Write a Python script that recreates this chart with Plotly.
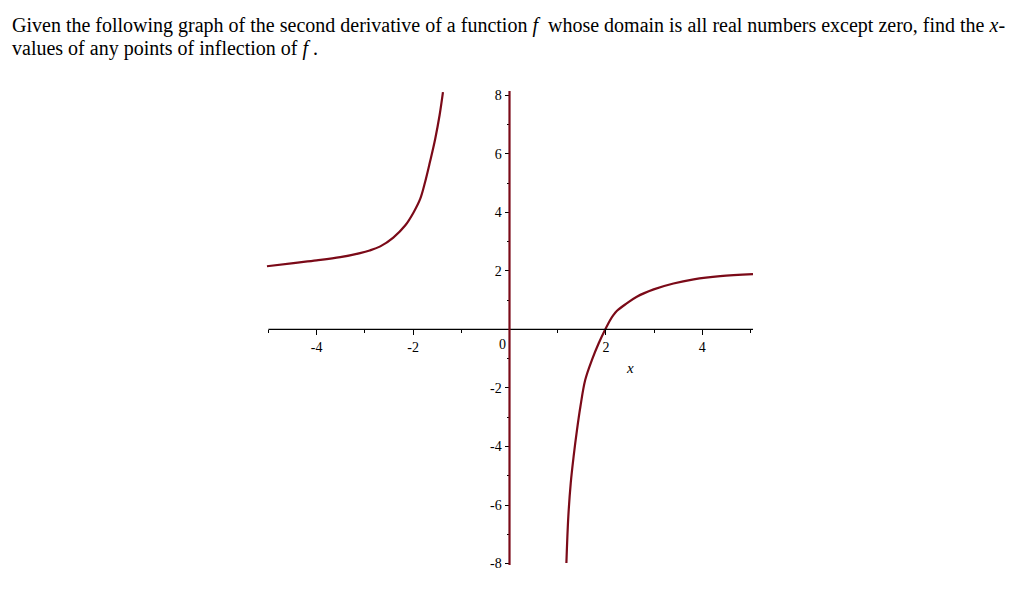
import plotly.graph_objects as go

# second derivative, left branch (x < 0)
left_x = [-5.03, -4.48, -4.0, -3.51, -3.10, -2.90, -2.68, -2.41, -2.16, -1.99,
          -1.85, -1.75, -1.65, -1.54, -1.45, -1.38]
left_y = [2.16, 2.27, 2.36, 2.47, 2.61, 2.70, 2.84, 3.14, 3.56, 4.00,
          4.47, 5.04, 5.72, 6.52, 7.32, 8.11]

# right branch (x > 0)
right_x = [1.18, 1.22, 1.27, 1.33, 1.40, 1.47, 1.57, 1.71, 1.85, 1.985,
           2.08, 2.15, 2.23, 2.43, 2.64, 2.99, 3.40, 3.82, 4.37, 5.05]
right_y = [-7.98, -6.39, -5.25, -4.34, -3.43, -2.64, -1.73, -1.04, -0.47, 0.0,
           0.30, 0.48, 0.64, 0.89, 1.12, 1.37, 1.57, 1.71, 1.82, 1.89]

x_ticks = [-4, -2, 2, 4]
x_labels = ['-4', '-2', '2', '4']
y_ticks = [-8, -6, -4, -2, 2, 4, 6, 8]
y_labels = ['-8', '-6', '-4', '-2', '2', '4', '6', '8']

question_lines = [
    'Given the following graph of the second derivative of a function <i>f</i>  '
    'whose domain is all real numbers except zero, find the <i>x</i>-',
    'values of any points of inflection of <i>f</i> .',
]

curve_color = '#7b0a18'
x_range = [-5.05, 5.05]
y_range = [-8.05, 8.15]

# page body adds 8px, so margins are shifted by that
W, H = 1024, 598
ml, mr, mt, mb = 258, 279, 83, 41
pw, ph = W - ml - mr, H - mt - mb

fig = go.Figure()
for xs, ys in [(left_x, left_y), (right_x, right_y)]:
    fig.add_trace(go.Scatter(x=xs, y=ys, mode='lines', line_shape='spline',
                             line=dict(color=curve_color, width=2.2),
                             showlegend=False, hoverinfo='skip'))

tick_font = dict(family='Liberation Serif', size=14, color='black')

fig.update_layout(
    width=W, height=H,
    margin=dict(l=ml, r=mr, t=mt, b=mb),
    plot_bgcolor='white', paper_bgcolor='white',
    xaxis=dict(range=x_range, showgrid=False, zeroline=False,
               showline=False, anchor='free',
               position=(0 - y_range[0]) / (y_range[1] - y_range[0]),
               tickvals=x_ticks, ticktext=x_labels, ticks='outside',
               ticklen=5, tickcolor='black', tickwidth=1, tickfont=tick_font,
               minor=dict(dtick=1, tick0=1, ticks='outside', ticklen=3,
                          tickcolor='black')),
    yaxis=dict(range=y_range, showgrid=False, zeroline=False,
               showline=False, anchor='free',
               position=(0 - x_range[0]) / (x_range[1] - x_range[0]),
               tickvals=y_ticks, ticktext=y_labels, ticks='outside',
               ticklen=5, tickcolor='black', tickwidth=1, tickfont=tick_font,
               minor=dict(dtick=1, tick0=1, ticks='outside', ticklen=3,
                          tickcolor='black')),
)

# axis lines: x axis black, the y axis overlaid by the red asymptote stroke
fig.add_shape(type='line', xref='x', yref='y', x0=-5, x1=5.05, y0=0, y1=0,
              line=dict(color='black', width=1.2))
fig.add_shape(type='line', xref='x', yref='y', x0=0, x1=0, y0=-8.05, y1=8.15,
              line=dict(color=curve_color, width=2.2))

fig.add_annotation(x=0, y=0, xref='x', yref='y', text='0', showarrow=False,
                   xanchor='right', yanchor='top', xshift=-2, yshift=-6,
                   font=tick_font)
fig.add_annotation(x=2.5, y=-1.3, xref='x', yref='y', text='<i>x</i>',
                   showarrow=False, font=dict(family='Liberation Serif', size=15,
                                              color='black'))

# question text, one annotation per line (pixel baselines converted to paper)
for i, line in enumerate(question_lines):
    top_px = 4 + i * 23
    fig.add_annotation(x=(2 - ml) / pw, y=1 + (mt - top_px) / ph,
                       xref='paper', yref='paper', text=line, showarrow=False,
                       align='left', xanchor='left', yanchor='top',
                       font=dict(family='Liberation Serif', size=20, color='black'))

# thin grey edge at the right of the page
fig.add_shape(type='line', xref='paper', yref='paper',
              x0=(1012 - ml) / pw, x1=(1012 - ml) / pw,
              y0=1 + (mt + 8) / ph, y1=-(mb - 8) / ph,
              line=dict(color='#cfcfcf', width=1))

fig.write_html("out.html")
